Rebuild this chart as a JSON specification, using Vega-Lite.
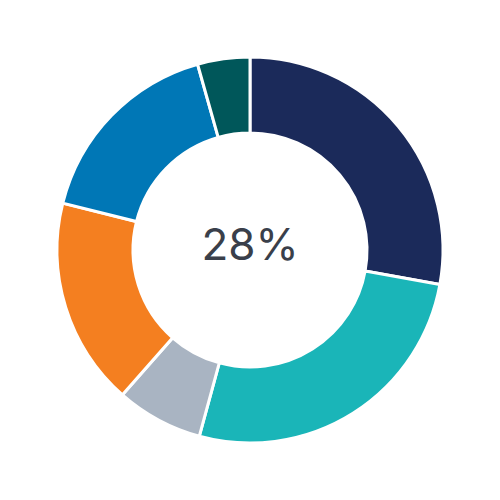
{
  "$schema": "https://vega.github.io/schema/vega-lite/v6.json",
  "width": 500,
  "height": 500,
  "autosize": {"type": "fit", "contains": "padding"},
  "padding": 0,
  "background": "white",
  "view": {"stroke": null},
  "layer": [
    {
      "data": {"values": [
        {"cat": "A", "value": 28, "order": 1},
        {"cat": "B", "value": 26.5, "order": 2},
        {"cat": "C", "value": 7.3, "order": 3},
        {"cat": "D", "value": 17.5, "order": 4},
        {"cat": "E", "value": 16.8, "order": 5},
        {"cat": "F", "value": 4.4, "order": 6}
      ]},
      "mark": {"type": "arc", "outerRadius": 193, "innerRadius": 117, "stroke": "white", "strokeWidth": 3},
      "encoding": {
        "theta": {"field": "value", "type": "quantitative", "stack": true},
        "order": {"field": "order", "type": "quantitative"},
        "color": {
          "field": "cat", "type": "nominal", "legend": null,
          "scale": {"domain": ["A","B","C","D","E","F"], "range": ["#1B2A5A","#1AB5B8","#A9B4C2","#F47F20","#0077B6","#00575A"]}
        }
      }
    },
    {
      "data": {"values": [{"label": "28%"}]},
      "mark": {"type": "text", "fontSize": 44, "font": "Inter", "fontWeight": 400, "color": "#3A3F4A", "baseline": "middle", "align": "center", "dy": -3},
      "encoding": {"text": {"field": "label", "type": "nominal"}}
    }
  ]
}
